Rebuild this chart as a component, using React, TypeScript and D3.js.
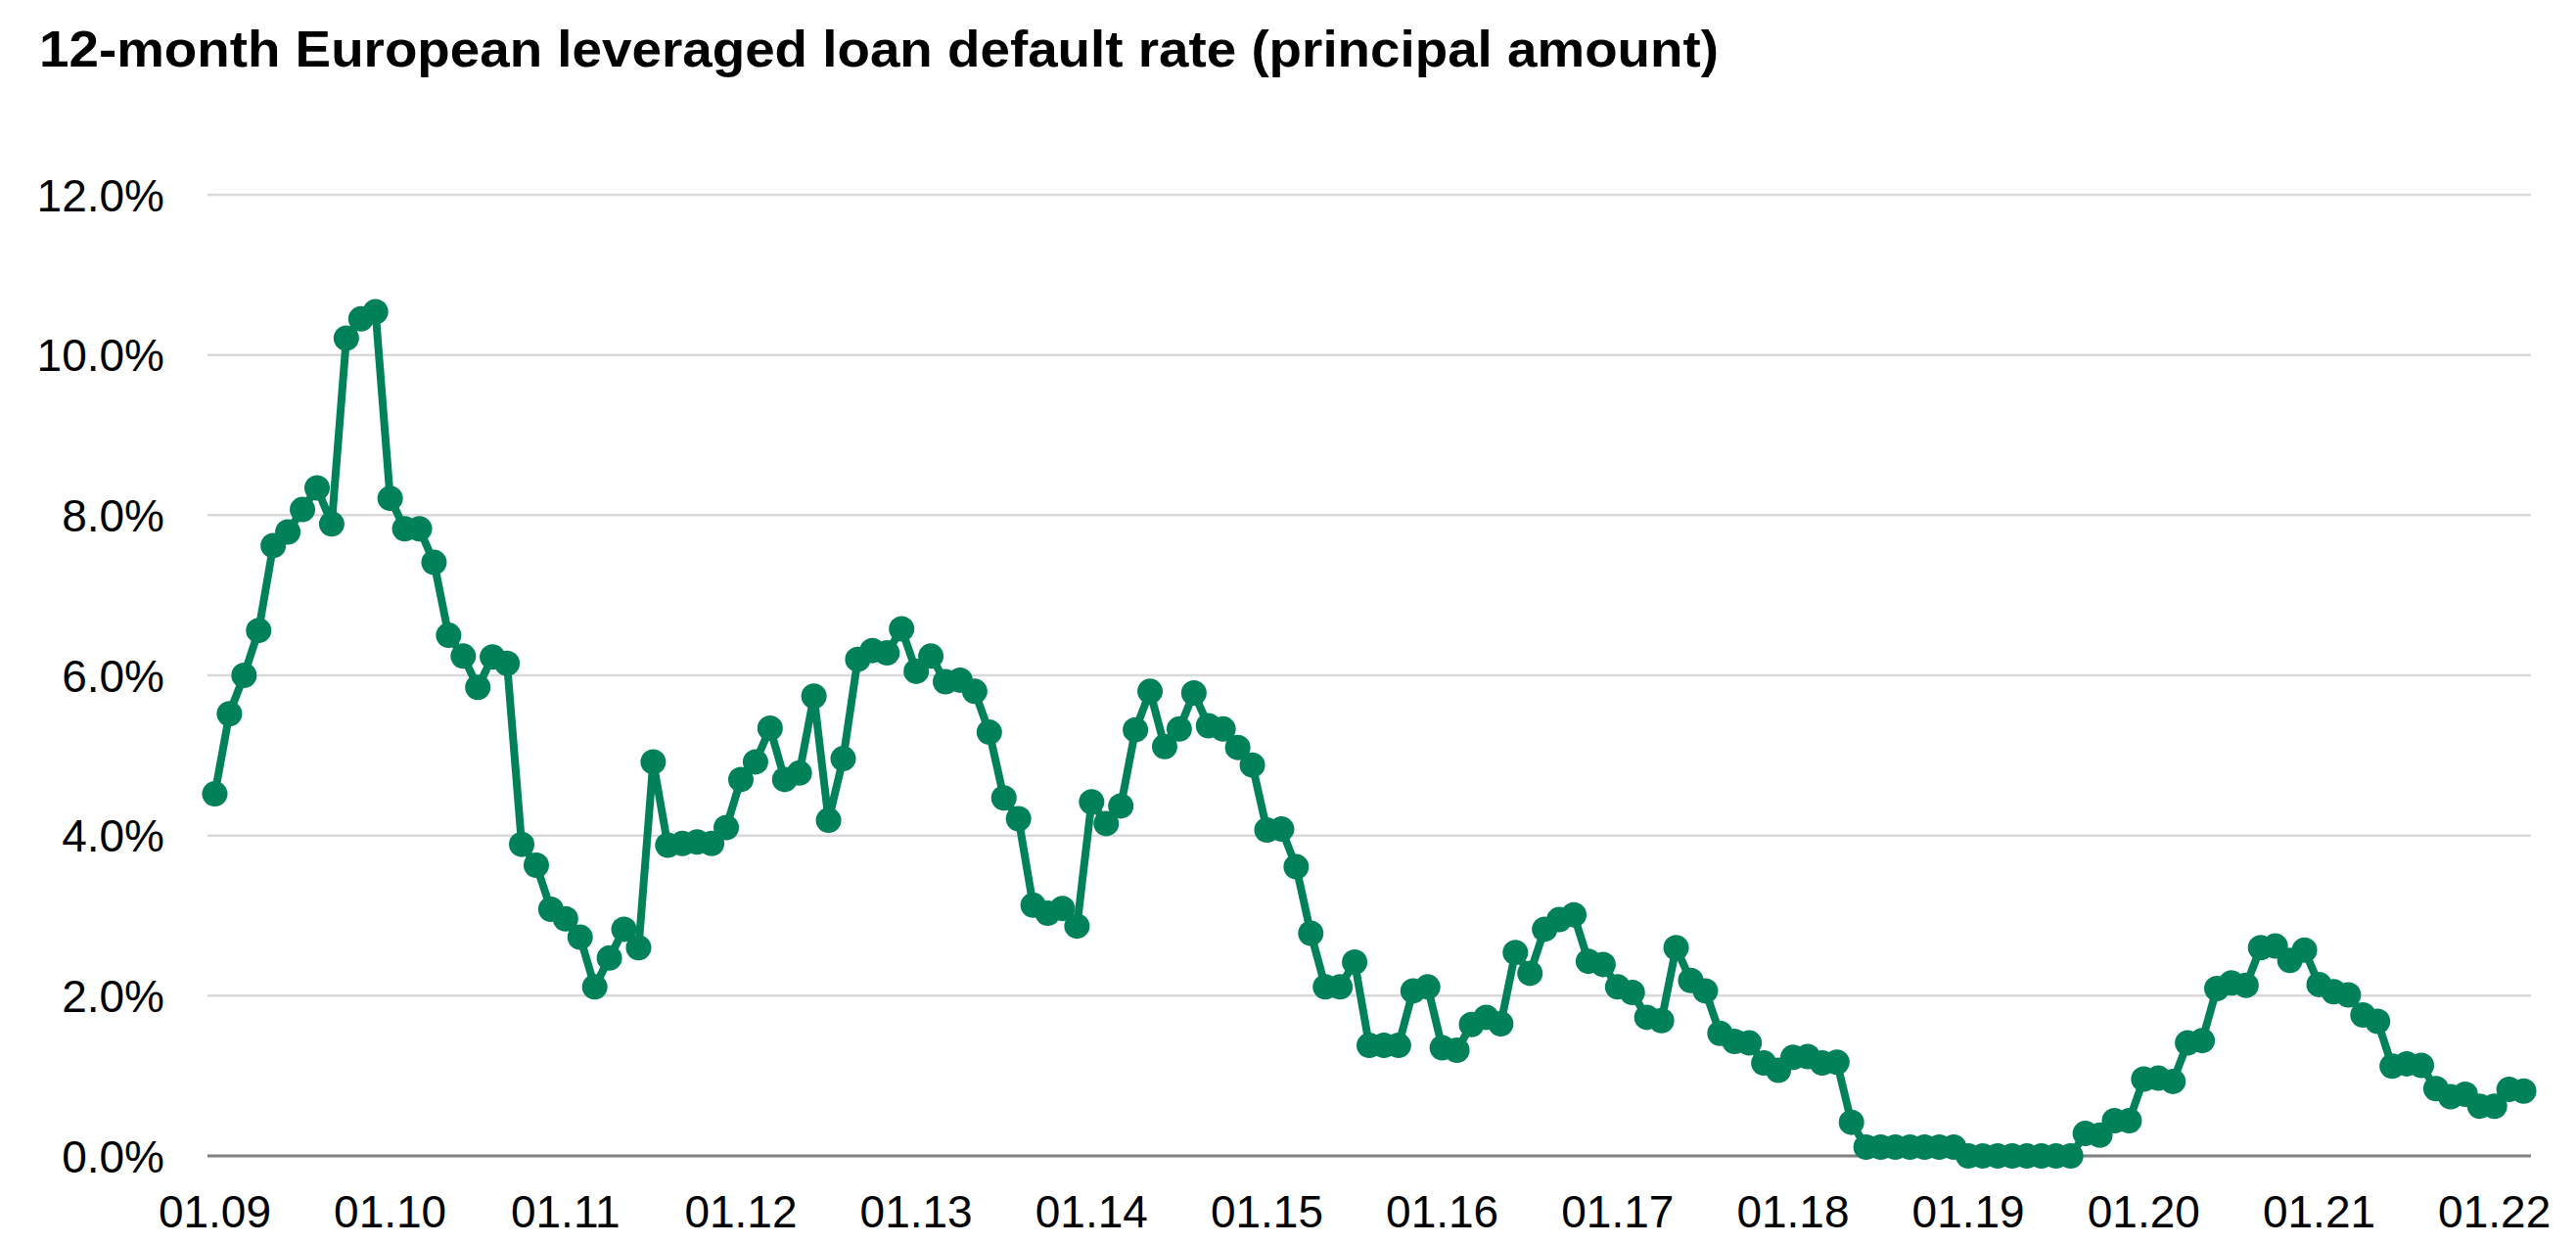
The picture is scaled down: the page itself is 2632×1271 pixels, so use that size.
import React from "react";
import * as d3 from "d3";

const TITLE = "12-month European leveraged loan default rate (principal amount)";
const START_YEAR = 2009;
const START_MONTH = 1;
const defaultRate: number[] = [
  4.52, 5.52, 6.0, 6.56, 7.62, 7.79, 8.07, 8.34, 7.89, 10.21, 10.45, 10.54,
  8.21, 7.83, 7.83, 7.41, 6.5, 6.24, 5.85, 6.23, 6.15, 3.89, 3.63, 3.08,
  2.96, 2.73, 2.11, 2.47, 2.83, 2.6, 4.92, 3.88, 3.9, 3.92, 3.9, 4.1,
  4.7, 4.92, 5.34, 4.7, 4.78, 5.74, 4.19, 4.96, 6.2, 6.31, 6.28, 6.58,
  6.05, 6.24, 5.92, 5.94, 5.8, 5.29, 4.47, 4.21, 3.13, 3.03, 3.09, 2.87,
  4.42, 4.15, 4.37, 5.32, 5.8, 5.11, 5.33, 5.78, 5.37, 5.33, 5.1, 4.88,
  4.07, 4.08, 3.61, 2.78, 2.11, 2.11, 2.42, 1.38, 1.38, 1.38, 2.06, 2.11,
  1.35, 1.32, 1.64, 1.73, 1.65, 2.54, 2.28, 2.83, 2.95, 3.01, 2.43, 2.39,
  2.11, 2.04, 1.73, 1.69, 2.6, 2.19, 2.06, 1.53, 1.43, 1.41, 1.16, 1.07,
  1.23, 1.24, 1.16, 1.17, 0.42, 0.11, 0.11, 0.11, 0.11, 0.11, 0.11, 0.11,
  0.0, 0.0, 0.0, 0.0, 0.0, 0.0, 0.0, 0.0, 0.28, 0.26, 0.44, 0.44,
  0.96, 0.97, 0.93, 1.41, 1.44, 2.09, 2.16, 2.13, 2.6, 2.62, 2.44, 2.57,
  2.14, 2.05, 2.01, 1.76, 1.68, 1.12, 1.15, 1.13, 0.84, 0.74, 0.77, 0.62,
  0.62, 0.83, 0.81,
];
const yTicks: number[] = [0, 2, 4, 6, 8, 10, 12];

const monthLabels: string[] = defaultRate.map((_, i) => {
  const m = ((START_MONTH - 1 + i) % 12) + 1;
  const y = START_YEAR + Math.floor((START_MONTH - 1 + i) / 12);
  return `${String(m).padStart(2, "0")}.${String(y % 100).padStart(2, "0")}`;
});

const W = 2632;
const H = 1271;
const GREEN = "#00815A";
const FONT = "'Liberation Sans', Arial, sans-serif";

export default function App() {
  const x = d3
    .scaleBand<string>()
    .domain(monthLabels)
    .range([212, 2586])
    .paddingInner(0)
    .paddingOuter(0);
  const y = d3.scaleLinear().domain([0, 12]).range([1181, 199]);
  const cx = (i: number) => (x(monthLabels[i]) as number) + x.bandwidth() / 2;

  const line = d3
    .line<number>()
    .x((_, i) => cx(i))
    .y((d) => y(d));

  const xTickLabels = monthLabels.filter((l) => l.startsWith("01."));

  return (
    <div style={{ position: "fixed", left: 0, top: 0, width: W, height: H, background: "#fff" }}>
      <svg width={W} height={H} style={{ display: "block" }}>
        <rect x={0} y={0} width={W} height={H} fill="#fff" />
        <text
          x={40}
          y={68}
          fontFamily={FONT}
          fontWeight="bold"
          fontSize={52}
          textLength={1716}
          lengthAdjust="spacingAndGlyphs"
          fill="#000"
        >
          {TITLE}
        </text>
        {yTicks.map((t) => (
          <g key={t}>
            <line
              x1={212}
              x2={2586}
              y1={y(t)}
              y2={y(t)}
              stroke={t === 0 ? "#808080" : "#d9d9d9"}
              strokeWidth={t === 0 ? 3 : 2.5}
            />
            <text
              x={168}
              y={y(t)}
              dy="0.36em"
              textAnchor="end"
              fontFamily={FONT}
              fontSize={46}
              fill="#000"
            >
              {`${t.toFixed(1)}%`}
            </text>
          </g>
        ))}
        {xTickLabels.map((l) => (
          <text
            key={l}
            x={(x(l) as number) + x.bandwidth() / 2}
            y={1254}
            textAnchor="middle"
            fontFamily={FONT}
            fontSize={46}
            fill="#000"
          >
            {l}
          </text>
        ))}
        <path d={line(defaultRate) || ""} fill="none" stroke={GREEN} strokeWidth={8} strokeLinejoin="round" />
        {defaultRate.map((v, i) => (
          <circle key={i} cx={cx(i)} cy={y(v)} r={13} fill={GREEN} />
        ))}
      </svg>
    </div>
  );
}
